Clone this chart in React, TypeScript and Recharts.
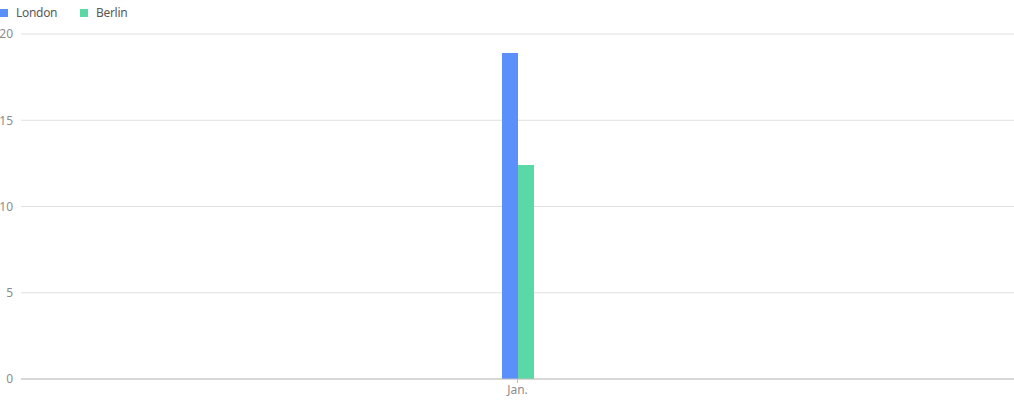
import { BarChart, Bar, XAxis, YAxis, CartesianGrid } from 'recharts'

const months = ['Jan.']
const london = [18.9]
const berlin = [12.4]
const yTicks = [0, 5, 10, 15, 20]

const series = [
  { key: 'London', color: '#5B8FF9' },
  { key: 'Berlin', color: '#5AD8A6' },
]

const data = months.map((m, i) => ({ name: m, London: london[i], Berlin: berlin[i] }))

const font = '"Segoe UI", "Noto Sans", "Open Sans", sans-serif'

export default function App() {
  return (
    <div style={{ position: 'absolute', left: 0, top: 0, width: 1014, height: 400, fontFamily: font }}>
      <div style={{ position: 'absolute', left: 0, top: 4, display: 'flex', fontSize: 12, color: '#595959' }}>
        {series.map((s) => (
          <div key={s.key} style={{ display: 'flex', alignItems: 'center', width: 80 }}>
            <span style={{ width: 8, height: 8, background: s.color, display: 'inline-block', marginRight: 8 }} />
            <span style={{ letterSpacing: -0.3 }}>{s.key}</span>
          </div>
        ))}
      </div>
      <BarChart width={1014} height={400} data={data} margin={{ top: 34, right: 0, left: 0, bottom: 0 }} barGap={0}>
        <CartesianGrid vertical={false} stroke="#e0e0e0" />
        <XAxis
          dataKey="name"
          height={21}
          stroke="#bfbfbf"
          tickSize={4}
          tick={{ fontSize: 12, fill: '#8c8c8c', fontFamily: font }}
        />
        <YAxis
          width={21}
          domain={[0, 20]}
          ticks={yTicks}
          axisLine={false}
          tickLine={false}
          tick={{ fontSize: 12, fill: '#8c8c8c', fontFamily: font }}
        />
        {series.map((s) => (
          <Bar key={s.key} dataKey={s.key} fill={s.color} barSize={16} isAnimationActive={false} />
        ))}
      </BarChart>
    </div>
  )
}
